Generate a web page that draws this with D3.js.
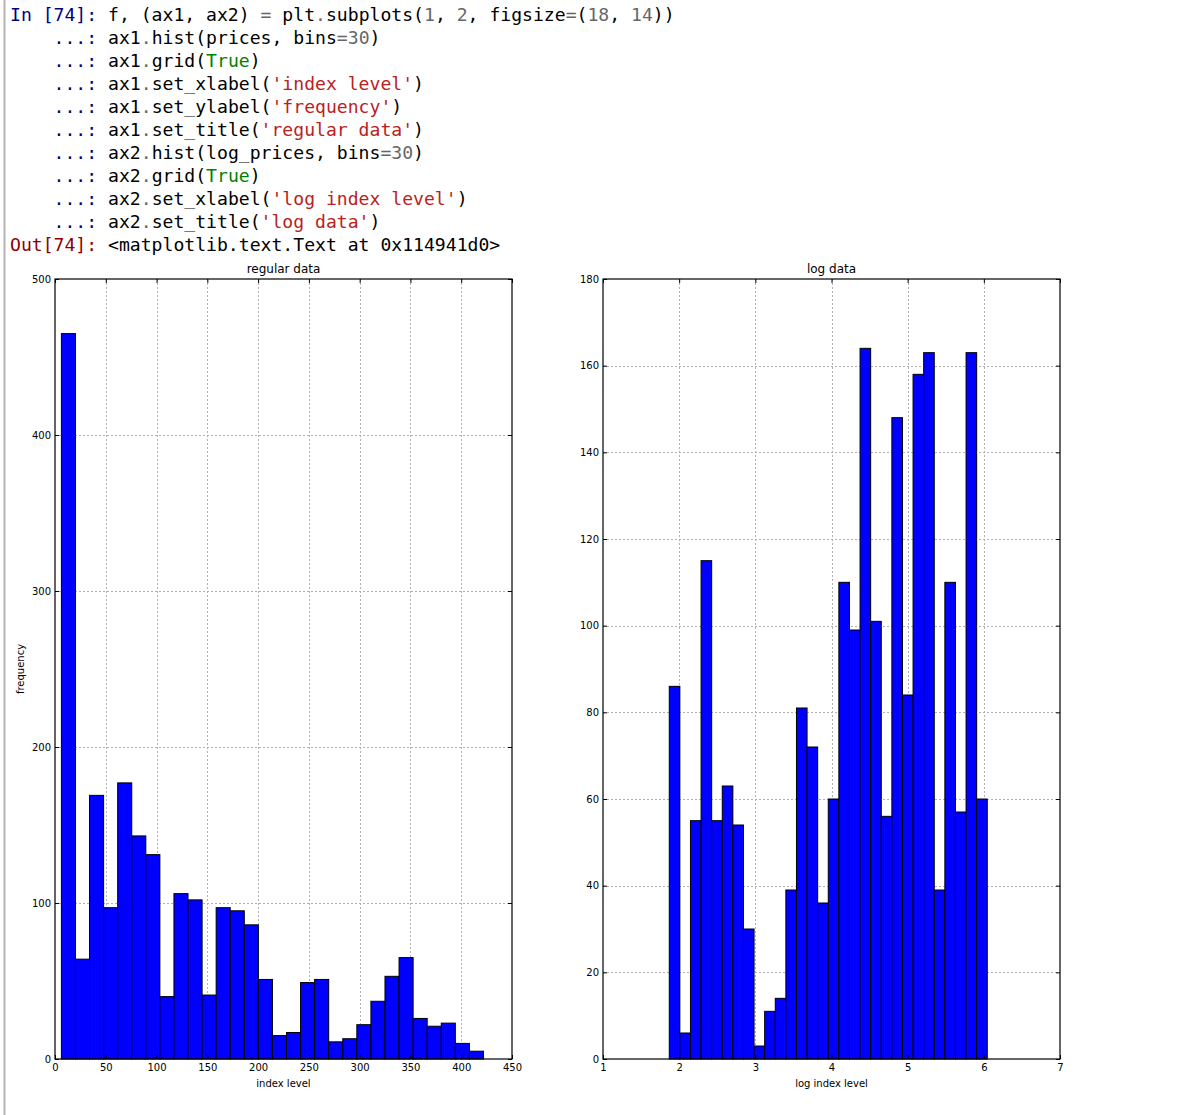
<!DOCTYPE html>
<html>
<head>
<meta charset="utf-8">
<script src="https://cdn.jsdelivr.net/npm/d3@7"></script>
<style>
  body { margin: 0; background: #fff; }
  .code text { font-family: "DejaVu Sans Mono", "Liberation Mono", monospace; font-size: 18.1px; white-space: pre; }
  .chart text { font-family: "DejaVu Sans", sans-serif; fill: #000; }
</style>
</head>
<body>
<div id="container"></div>
<script>
// ==================== data ==================== //

// counts per bin (bins=30)
const regularCounts = [465, 64, 169, 97, 177, 143, 131, 40, 106, 102, 41, 97, 95, 86, 51,
                       15, 17, 49, 51, 11, 13, 22, 37, 53, 65, 26, 21, 23, 10, 5];
const regularRange = [6.3, 421.9];

const logCounts = [86, 6, 55, 115, 55, 63, 54, 30, 3, 11, 14, 39, 81, 72, 36,
                   60, 110, 99, 164, 101, 56, 148, 84, 158, 163, 39, 110, 57, 163, 60];
const logRange = [1.87, 6.045];

const regularXTicks = [0, 50, 100, 150, 200, 250, 300, 350, 400, 450];
const regularYTicks = [0, 100, 200, 300, 400, 500];
const logXTicks = [1, 2, 3, 4, 5, 6, 7];
const logYTicks = [0, 20, 40, 60, 80, 100, 120, 140, 160, 180];

// console cell: [text, token kind]
const codeLines = [
  [["In [74]: ", "prompt"], ["f, (ax1, ax2) ", "name"], ["=", "op"], [" plt", "name"], [".", "op"], ["subplots(", "name"], ["1", "num"], [", ", "name"], ["2", "num"], [", figsize", "name"], ["=", "op"], ["(", "name"], ["18", "num"], [", ", "name"], ["14", "num"], ["))", "name"]],
  [["    ...: ", "prompt"], ["ax1", "name"], [".", "op"], ["hist(prices, bins", "name"], ["=", "op"], ["30", "num"], [")", "name"]],
  [["    ...: ", "prompt"], ["ax1", "name"], [".", "op"], ["grid(", "name"], ["True", "kw"], [")", "name"]],
  [["    ...: ", "prompt"], ["ax1", "name"], [".", "op"], ["set_xlabel(", "name"], ["'index level'", "str"], [")", "name"]],
  [["    ...: ", "prompt"], ["ax1", "name"], [".", "op"], ["set_ylabel(", "name"], ["'frequency'", "str"], [")", "name"]],
  [["    ...: ", "prompt"], ["ax1", "name"], [".", "op"], ["set_title(", "name"], ["'regular data'", "str"], [")", "name"]],
  [["    ...: ", "prompt"], ["ax2", "name"], [".", "op"], ["hist(log_prices, bins", "name"], ["=", "op"], ["30", "num"], [")", "name"]],
  [["    ...: ", "prompt"], ["ax2", "name"], [".", "op"], ["grid(", "name"], ["True", "kw"], [")", "name"]],
  [["    ...: ", "prompt"], ["ax2", "name"], [".", "op"], ["set_xlabel(", "name"], ["'log index level'", "str"], [")", "name"]],
  [["    ...: ", "prompt"], ["ax2", "name"], [".", "op"], ["set_title(", "name"], ["'log data'", "str"], [")", "name"]],
  [["Out[74]: ", "out"], ["<matplotlib.text.Text at 0x114941d0>", "name"]]
];

const tokenColors = { prompt: "#000080", out: "#8b0000", name: "#000", op: "#666", num: "#666", kw: "#008000", str: "#ba2121" };

// ==================== layout ==================== //

const width = 1187, height = 1115;
const plotTop = 279, plotBottom = 1059;

const svg = d3.select("#container")
  .append("svg")
  .attr("width", width)
  .attr("height", height);

svg.append("rect").attr("width", width).attr("height", height).attr("fill", "#fff");

// console left border
svg.append("line")
  .attr("x1", 4.5).attr("x2", 4.5).attr("y1", 0).attr("y2", height)
  .attr("stroke", "#b4b4b4").attr("stroke-width", 2);

// ==================== code cell ==================== //

const code = svg.append("g").attr("class", "code");
codeLines.forEach((tokens, i) => {
  const t = code.append("text")
    .attr("x", 10)
    .attr("y", 21 + i * 23)
    .attr("xml:space", "preserve");
  tokens.forEach(([txt, kind]) => {
    t.append("tspan").attr("fill", tokenColors[kind]).text(txt);
  });
});

// ==================== histograms ==================== //

function drawHistogram(opts) {
  const g = svg.append("g").attr("class", "chart");

  const x = d3.scaleLinear().domain(opts.xDomain).range([opts.x0, opts.x1]);
  const y = d3.scaleLinear().domain(opts.yDomain).range([plotBottom, plotTop]);

  // grid
  g.append("g").selectAll("line")
    .data(opts.xTicks.slice(1, -1))
    .join("line")
    .attr("x1", d => Math.round(x(d)) + 0.5).attr("x2", d => Math.round(x(d)) + 0.5)
    .attr("y1", plotTop).attr("y2", plotBottom)
    .attr("stroke", "#b0b0b0").attr("stroke-width", 1).attr("stroke-dasharray", "2,2");

  g.append("g").selectAll("line")
    .data(opts.yTicks.slice(1, -1))
    .join("line")
    .attr("x1", opts.x0).attr("x2", opts.x1)
    .attr("y1", d => Math.round(y(d)) + 0.5).attr("y2", d => Math.round(y(d)) + 0.5)
    .attr("stroke", "#b0b0b0").attr("stroke-width", 1).attr("stroke-dasharray", "2,2");

  // bars
  const n = opts.counts.length;
  const [lo, hi] = opts.range;
  const edges = d3.range(n + 1).map(i => lo + (hi - lo) * i / n);

  g.append("g").selectAll("rect")
    .data(opts.counts)
    .join("rect")
    .attr("x", (d, i) => x(edges[i]))
    .attr("width", (d, i) => x(edges[i + 1]) - x(edges[i]))
    .attr("y", d => y(d))
    .attr("height", d => plotBottom - y(d))
    .attr("fill", "#0000ff")
    .attr("stroke", "#000")
    .attr("stroke-width", 1);

  // axes with inward ticks on all four sides
  const fmt = d3.format("d");
  g.append("g")
    .attr("transform", `translate(0,${plotBottom})`)
    .call(d3.axisBottom(x).tickValues(opts.xTicks).tickSize(-4).tickPadding(5).tickFormat(fmt));
  g.append("g")
    .attr("transform", `translate(${opts.x0},0)`)
    .call(d3.axisLeft(y).tickValues(opts.yTicks).tickSize(-4).tickPadding(4).tickFormat(fmt));
  g.append("g")
    .attr("transform", `translate(0,${plotTop})`)
    .call(d3.axisTop(x).tickValues(opts.xTicks).tickSize(-4).tickFormat(""));
  g.append("g")
    .attr("transform", `translate(${opts.x1},0)`)
    .call(d3.axisRight(y).tickValues(opts.yTicks).tickSize(-4).tickFormat(""));

  g.selectAll(".domain").remove();
  g.selectAll(".tick line").attr("stroke", "#000");
  g.selectAll(".tick text").attr("font-family", "DejaVu Sans").attr("font-size", 10).attr("fill", "#000");

  // spines
  g.append("rect")
    .attr("x", opts.x0).attr("y", plotTop)
    .attr("width", opts.x1 - opts.x0).attr("height", plotBottom - plotTop)
    .attr("fill", "none").attr("stroke", "#000").attr("stroke-width", 1.2);

  // labels
  const cx = (opts.x0 + opts.x1) / 2;
  g.append("text")
    .attr("x", cx).attr("y", 273)
    .attr("text-anchor", "middle").attr("font-size", 12)
    .text(opts.title);

  g.append("text")
    .attr("x", cx).attr("y", 1087)
    .attr("text-anchor", "middle").attr("font-size", 10)
    .text(opts.xLabel);

  if (opts.yLabel) {
    g.append("text")
      .attr("transform", `translate(20,${(plotTop + plotBottom) / 2}) rotate(-90)`)
      .attr("text-anchor", "middle").attr("dy", "0.35em").attr("font-size", 10)
      .text(opts.yLabel);
  }
}

drawHistogram({
  x0: 55, x1: 512,
  xDomain: [0, 450], yDomain: [0, 500],
  xTicks: regularXTicks, yTicks: regularYTicks,
  counts: regularCounts, range: regularRange,
  title: "regular data", xLabel: "index level", yLabel: "frequency"
});

drawHistogram({
  x0: 603, x1: 1060,
  xDomain: [1, 7], yDomain: [0, 180],
  xTicks: logXTicks, yTicks: logYTicks,
  counts: logCounts, range: logRange,
  title: "log data", xLabel: "log index level"
});
</script>
</body>
</html>
